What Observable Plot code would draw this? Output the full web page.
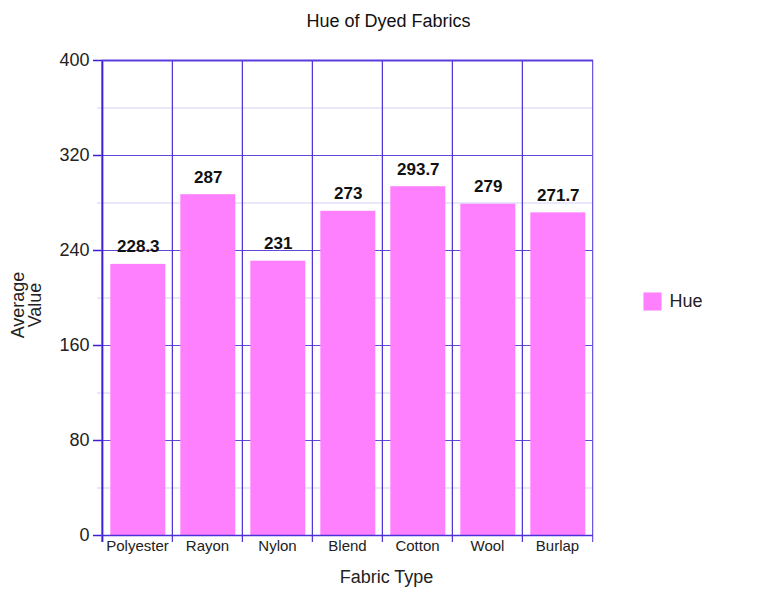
<!DOCTYPE html>
<html>
<head>
<meta charset="utf-8">
<script src="https://cdn.jsdelivr.net/npm/d3@7"></script>
<script src="https://cdn.jsdelivr.net/npm/@observablehq/plot@0.6"></script>
<style>
  html, body { margin: 0; padding: 0; background: #fff; }
  #chart svg { display: block; }
</style>
</head>
<body>
<div id="chart"></div>
<script>
const categories = ["Polyester", "Rayon", "Nylon", "Blend", "Cotton", "Wool", "Burlap"];
const hueValues = [228.3, 287, 231, 273, 293.7, 279, 271.7];
const valueLabels = ["228.3", "287", "231", "273", "293.7", "279", "271.7"];
const majorTicks = [0, 80, 160, 240, 320, 400];
const minorTicks = [40, 120, 200, 280, 360];
const seriesName = "Hue";
const titleText = "Hue of Dyed Fabrics";
const xLabel = "Fabric Type";
const yLabel = "Average\nValue";

const data = categories.map((c, i) => ({ category: c, value: hueValues[i], label: valueLabels[i] }));

const W = 768, H = 592;
const mL = 101, mR = 175, mT = 60, mB = 57;
const halfBand = (W - mL - mR) / categories.length / 2;
const font = "Liberation Sans, Arial, Helvetica, sans-serif";
const barColor = "#ff80ff";
const axisColor = "#3a1fd6";
const majorColor = "#6048da";
const minorColor = "#d3cff5";
const boundaryColor = "#4a2fd4";

const chart = Plot.plot({
  width: W,
  height: H,
  marginLeft: mL,
  marginRight: mR,
  marginTop: mT,
  marginBottom: mB,
  style: { fontFamily: font, background: "#fff", overflow: "visible" },
  x: { domain: categories, padding: 0, label: null },
  y: { domain: [0, 400], label: null },
  marks: [
    Plot.ruleY(minorTicks, { stroke: minorColor, strokeWidth: 1, insetLeft: -4 }),
    Plot.ruleY(majorTicks.filter(d => d > 0 && d < 400), { stroke: majorColor, strokeWidth: 1.2 }),
    Plot.barY(data, { x: "category", y: "value", fill: barColor, insetLeft: 8.3, insetRight: 6.7 }),
    Plot.ruleX(categories.slice(1), { x: d => d, y1: 400, y2: 0, dx: -halfBand, insetBottom: -7, stroke: boundaryColor, strokeWidth: 1.2 }),
    Plot.ruleX(categories.slice(-1), { x: d => d, y1: 400, y2: 0, dx: halfBand, insetBottom: -7, stroke: "#6a50e0", strokeWidth: 1.2 }),
    Plot.ruleX(categories.slice(0, 1), { x: d => d, y1: 400, y2: 0, dx: -halfBand, insetBottom: -7, stroke: axisColor, strokeWidth: 2 }),
    Plot.ruleY([400], { stroke: "#5a3ddb", strokeWidth: 1.8 }),
    Plot.ruleY([0], { stroke: "#4a30d8", strokeWidth: 1.6 }),
    Plot.axisY({ ticks: majorTicks, tickSize: 8, tickPadding: 4, stroke: axisColor, strokeWidth: 1.5, fontSize: 18, fill: "#222", label: null }),
    Plot.axisX({ tickSize: 0, tickPadding: 5, fontSize: 15, fill: "#222", label: null }),
    Plot.text(data, { x: "category", y: "value", text: "label", dx: 0.8, dy: -12, lineAnchor: "bottom", fontSize: 17, fontWeight: "bold", fill: "#111" }),
    Plot.text([titleText], { frameAnchor: "top", lineAnchor: "middle", dx: 41, dy: -39, fontSize: 18, fill: "#111" }),
    Plot.text([xLabel], { frameAnchor: "bottom", lineAnchor: "middle", dx: 39, dy: 42, fontSize: 18, fill: "#222" }),
    Plot.text([yLabel], { frameAnchor: "left", textAnchor: "middle", lineAnchor: "middle", dx: -74.3, dy: 7, rotate: -90, fontSize: 18, fill: "#222", lineHeight: 0.95 }),
    Plot.dot([seriesName], { frameAnchor: "right", dx: 59, dy: 3.5, symbol: "square", r: 10.2, fill: barColor, stroke: null }),
    Plot.text([seriesName], { frameAnchor: "right", dx: 76, dy: 3.5, textAnchor: "start", fontSize: 18, fill: "#222" })
  ]
});

document.getElementById("chart").appendChild(chart);
</script>
</body>
</html>
